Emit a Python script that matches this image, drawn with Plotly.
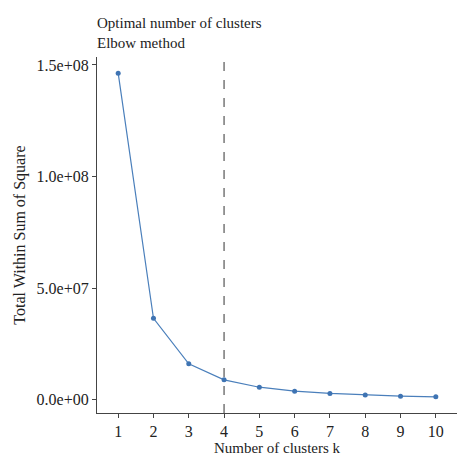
import plotly.graph_objects as go

k_values = [1, 2, 3, 4, 5, 6, 7, 8, 9, 10]
wss = [1.463e8, 3.65e7, 1.61e7, 8.9e6, 5.6e6, 3.85e6, 2.8e6, 2.1e6, 1.6e6, 1.3e6]
optimal_k = 4
y_tickvals = [0, 5e7, 1e8, 1.5e8]
y_ticktext = ["0.0e+00", "5.0e+07", "1.0e+08", "1.5e+08"]

font = "Liberation Serif"
axis_col = "#444444"

fig = go.Figure()
fig.add_trace(go.Scatter(
    x=k_values, y=wss, mode="lines+markers",
    line=dict(color="#4a7fbb", width=1.2),
    marker=dict(color="#3f74b3", size=5),
    showlegend=False))

fig.add_shape(type="line", x0=optimal_k, x1=optimal_k, xref="x",
              y0=0, y1=1, yref="paper",
              line=dict(color="#555555", width=1.2, dash="dash"))

# page body has an 8px margin, so the figure is sized and offset for that
fig.update_layout(
    width=466, height=463,
    margin=dict(l=89, r=17, t=49, b=58),
    paper_bgcolor="white", plot_bgcolor="white",
    font=dict(family=font, size=16, color="#222222"),
    title=dict(text="Optimal number of clusters<br>Elbow method",
               x=0, xref="paper", xanchor="left",
               y=1 - 20 / 463, yref="container", yanchor="top",
               font=dict(family=font, size=15, color="#222222")),
)
fig.update_xaxes(
    range=[0.4, 10.6], tickvals=k_values, ticktext=[str(k) for k in k_values],
    showgrid=False, zeroline=False, showline=True, linecolor=axis_col, linewidth=1.2,
    ticks="outside", ticklen=4, tickcolor=axis_col, automargin=False,
    title=dict(text="Number of clusters k", standoff=3, font=dict(size=15)))
fig.update_yaxes(
    range=[-5.95e6, 1.5355e8], tickvals=y_tickvals, ticktext=y_ticktext,
    showgrid=False, zeroline=False, showline=True, linecolor=axis_col, linewidth=1.2,
    ticks="outside", ticklen=4, tickcolor=axis_col, automargin=False,
    title=dict(text="Total Within Sum of Square", standoff=6, font=dict(size=16)))

fig.write_html("out.html")
